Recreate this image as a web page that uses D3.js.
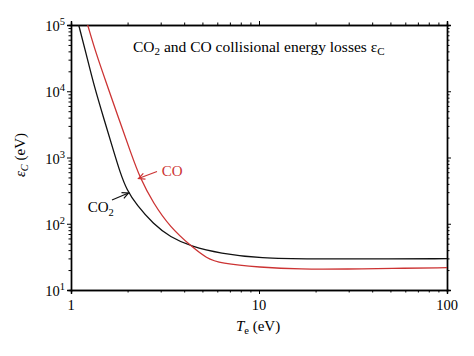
<!DOCTYPE html>
<html><head><meta charset="utf-8">
<script src="https://cdn.jsdelivr.net/npm/d3@7"></script>
<style>body{margin:0;background:#fff}svg{display:block}text{font-family:"Liberation Serif","DejaVu Serif",serif;fill:#000}</style>
</head><body><svg id="c" width="474" height="356"></svg>
<script>
// Data
const co2Te  = [1.099, 1.202, 1.330, 1.503, 1.699, 1.822, 1.979, 2.236, 2.741, 3.362, 4.385, 6.20, 10.1, 20, 40, 100];
const co2Eps = [1e5, 37400, 11720, 3680, 1157, 604, 323, 192, 99, 63.1, 45.1, 35.8, 30.0, 29.4, 29.4, 29.7];
const coTe   = [1.227, 1.358, 1.567, 1.806, 2.085, 2.328, 2.741, 3.362, 4.385, 5.27, 6.20, 10.1, 16.5, 30, 50, 100];
const coEps  = [1e5, 37400, 11720, 3680, 1157, 490, 204, 89.3, 45.1, 30.1, 25.3, 22.0, 20.5, 20.7, 21.2, 21.7];
const xMajor = [1, 10, 100];
const xMajorLabels = ["1", "10", "100"];
const yMajorExp = [1, 2, 3, 4, 5];
const titleParts = ["CO", "2", " and CO collisional energy losses ε", "C"];
const coLabel = {text: "CO", te: 3.037, eps: 526, from: [2.867, 615], to: [2.286, 482]};
const co2Label = {text: "CO", sub: "2", te: 1.227, eps: 150, from: [1.652, 228], to: [2.022, 291]};

const W = 474, H = 356;
const m = {left: 71, right: 27, top: 25, bottom: 66};
const svg = d3.select("#c");
const x = d3.scaleLog().domain([1, 100]).range([m.left, W - m.right]);
const y = d3.scaleLog().domain([10, 1e5]).range([H - m.bottom, m.top]);

const minorX = [];
[1, 10].forEach(d => { for (let k = 2; k <= 9; k++) minorX.push(d * k); });
const minorY = [];
[10, 100, 1000, 10000].forEach(d => { for (let k = 2; k <= 9; k++) minorY.push(d * k); });
const majorY = yMajorExp.map(e => Math.pow(10, e));

function drawAxis(gen, tr, vals, size) {
  const g = svg.append("g").attr("transform", tr)
    .call(gen.tickValues(vals).tickSize(size).tickFormat(""));
  g.selectAll(".domain").attr("stroke", "#000").attr("stroke-width", 1.4);
  g.selectAll(".tick line").attr("stroke", "#000").attr("stroke-width", 1);
  return g;
}
const bY = H - m.bottom, rX = W - m.right;
drawAxis(d3.axisBottom(x), `translate(0,${bY})`, xMajor, 4);
drawAxis(d3.axisBottom(x), `translate(0,${bY})`, minorX, 2.5);
drawAxis(d3.axisTop(x), `translate(0,${m.top})`, xMajor, 4);
drawAxis(d3.axisTop(x), `translate(0,${m.top})`, minorX, 2.5);
drawAxis(d3.axisLeft(y), `translate(${m.left},0)`, majorY, 4);
drawAxis(d3.axisLeft(y), `translate(${m.left},0)`, minorY, 2.5);
drawAxis(d3.axisRight(y), `translate(${rX},0)`, majorY, 4);
drawAxis(d3.axisRight(y), `translate(${rX},0)`, minorY, 2.5);

// x tick labels
svg.append("g").selectAll("text").data(xMajor).join("text")
  .attr("x", d => x(d)).attr("y", bY + 20).attr("text-anchor", "middle")
  .attr("font-size", 14.5).text((d, i) => xMajorLabels[i]);

// y tick labels 10^n
const yl = svg.append("g").selectAll("text").data(yMajorExp).join("text")
  .attr("x", m.left - 6).attr("y", d => y(Math.pow(10, d)) + 6).attr("text-anchor", "end")
  .attr("font-size", 14.5);
yl.append("tspan").text("10");
yl.append("tspan").attr("dy", -6).attr("font-size", 10.5).text(d => d);

// axis titles
const xt = svg.append("text").attr("x", 258).attr("y", 331).attr("text-anchor", "middle").attr("font-size", 15);
xt.append("tspan").attr("font-style", "italic").text("T");
xt.append("tspan").attr("dy", 3).attr("font-size", 10.5).text("e");
xt.append("tspan").attr("dy", -3).text(" (eV)");

const yt = svg.append("text").attr("transform", "translate(25,155) rotate(-90)")
  .attr("text-anchor", "middle").attr("font-size", 15);
yt.append("tspan").attr("font-style", "italic").text("ε");
yt.append("tspan").attr("dy", 3).attr("font-size", 10.5).attr("font-style", "italic").text("C");
yt.append("tspan").attr("dy", -3).text(" (eV)");

// title
const tt = svg.append("text").attr("x", 133).attr("y", 52).attr("font-size", 15.5);
tt.append("tspan").text(titleParts[0]);
tt.append("tspan").attr("dy", 3).attr("font-size", 11).text(titleParts[1]);
tt.append("tspan").attr("dy", -3).text(titleParts[2]);
tt.append("tspan").attr("dy", 3).attr("font-size", 11).text(titleParts[3]);

// curves
svg.append("clipPath").attr("id", "pc").append("rect")
  .attr("x", m.left).attr("y", m.top).attr("width", rX - m.left).attr("height", bY - m.top);
const line = d3.line().x(d => x(d[0])).y(d => y(d[1])).curve(d3.curveBasis);
svg.append("path").attr("clip-path", "url(#pc)").attr("d", line(co2Te.map((t, i) => [t, co2Eps[i]])))
  .attr("fill", "none").attr("stroke", "#111").attr("stroke-width", 1.3);
svg.append("path").attr("clip-path", "url(#pc)").attr("d", line(coTe.map((t, i) => [t, coEps[i]])))
  .attr("fill", "none").attr("stroke", "#cc3333").attr("stroke-width", 1.3);

// annotations
function arrow(a, color) {
  const x0 = x(a.from[0]), y0 = y(a.from[1]), x1 = x(a.to[0]), y1 = y(a.to[1]);
  const ang = Math.atan2(y1 - y0, x1 - x0), L = 7, s = 0.45;
  const g = svg.append("g").attr("stroke", color).attr("stroke-width", 1.2).attr("fill", "none");
  g.append("line").attr("x1", x0).attr("y1", y0).attr("x2", x1).attr("y2", y1);
  g.append("path").attr("d", `M${x1 - L * Math.cos(ang - s)},${y1 - L * Math.sin(ang - s)}L${x1},${y1}L${x1 - L * Math.cos(ang + s)},${y1 - L * Math.sin(ang + s)}`);
}
arrow(coLabel, "#cc3333");
arrow(co2Label, "#111");
svg.append("text").attr("x", x(coLabel.te)).attr("y", y(coLabel.eps)).attr("font-size", 15)
  .style("fill", "#cc3333").text(coLabel.text);
const c2 = svg.append("text").attr("x", x(co2Label.te)).attr("y", y(co2Label.eps)).attr("font-size", 15);
c2.append("tspan").text(co2Label.text);
c2.append("tspan").attr("dy", 4).attr("font-size", 10.5).text(co2Label.sub);
</script></body></html>
